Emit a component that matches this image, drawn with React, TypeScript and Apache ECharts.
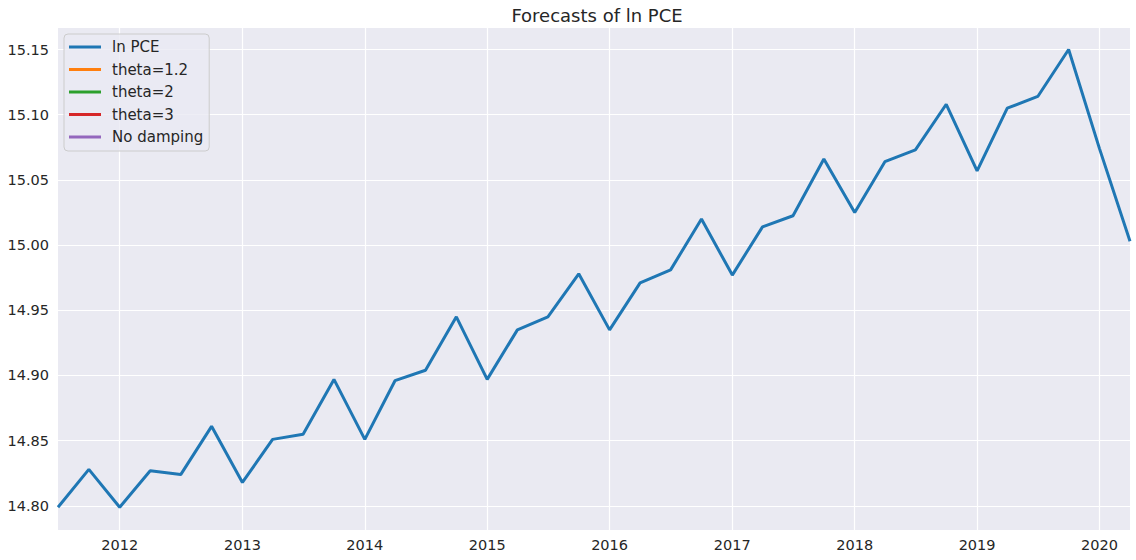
import React, { useEffect, useRef } from "react";
import * as echarts from "echarts";

const quarters: string[] = [
  "2011-07-01", "2011-10-01",
  "2012-01-01", "2012-04-01", "2012-07-01", "2012-10-01",
  "2013-01-01", "2013-04-01", "2013-07-01", "2013-10-01",
  "2014-01-01", "2014-04-01", "2014-07-01", "2014-10-01",
  "2015-01-01", "2015-04-01", "2015-07-01", "2015-10-01",
  "2016-01-01", "2016-04-01", "2016-07-01", "2016-10-01",
  "2017-01-01", "2017-04-01", "2017-07-01", "2017-10-01",
  "2018-01-01", "2018-04-01", "2018-07-01", "2018-10-01",
  "2019-01-01", "2019-04-01", "2019-07-01", "2019-10-01",
  "2020-01-01", "2020-04-01",
];

const lnPCE: number[] = [
  14.799, 14.828,
  14.799, 14.827, 14.824, 14.861,
  14.818, 14.851, 14.855, 14.897,
  14.851, 14.896, 14.904, 14.945,
  14.897, 14.935, 14.945, 14.978,
  14.935, 14.971, 14.981, 15.02,
  14.977, 15.014, 15.0225, 15.066,
  15.025, 15.064, 15.073, 15.108,
  15.057, 15.105, 15.114, 15.15,
  15.074, 15.003,
];

const theta12: number[] = [];
const theta2: number[] = [];
const theta3: number[] = [];
const noDamping: number[] = [];

const yearTicks: number[] = [2012, 2013, 2014, 2015, 2016, 2017, 2018, 2019, 2020];
const yTicks: number[] = [14.8, 14.85, 14.9, 14.95, 15.0, 15.05, 15.1, 15.15];

const xStart = "2011-07-01";
const xEnd = "2020-04-01";
const yMin = 14.7815;
const yMax = 15.1665;

function ts(d: string): number {
  const [y, m, dd] = d.split("-").map(Number);
  return Date.UTC(y, m - 1, dd);
}

const TEXT = "#262626";
const FONT = "DejaVu Sans";

export default function App() {
  const ref = useRef<HTMLDivElement>(null);
  useEffect(() => {
    if (!ref.current) return;
    const chart = echarts.init(ref.current, undefined, { renderer: "svg" });
    const pairs = (vals: number[]) => vals.map((v, i) => [ts(quarters[i]), v]);
    const yearTs = yearTicks.map((y) => Date.UTC(y, 0, 1));
    chart.setOption({
      animation: false,
      backgroundColor: "#ffffff",
      title: {
        text: "Forecasts of ln PCE",
        left: 592,
        textAlign: "center",
        top: 1,
        textStyle: { fontFamily: FONT, fontSize: 18, fontWeight: "normal", color: TEXT },
      },
      grid: { left: 58, right: 6, top: 28, bottom: 30, show: true, backgroundColor: "#EAEAF2", borderWidth: 0 },
      legend: {
        orient: "vertical",
        left: 64,
        top: 34,
        padding: [2, 6, 3, 5],
        backgroundColor: "rgba(234,234,242,0.8)",
        borderColor: "#cccccc",
        borderWidth: 1,
        borderRadius: 4,
        icon: "rect",
        itemWidth: 32,
        itemHeight: 3,
        itemGap: 0.5,
        textStyle: { fontFamily: FONT, fontSize: 15, color: TEXT, lineHeight: 22, padding: [0, 0, 0, 6] },
        data: ["ln PCE", "theta=1.2", "theta=2", "theta=3", "No damping"],
      },
      xAxis: {
        type: "value",
        min: ts(xStart),
        max: ts(xEnd),
        axisLine: { show: false },
        axisTick: { show: false, customValues: yearTs },
        axisLabel: {
          customValues: yearTs,
          formatter: (v: number) => String(new Date(v).getUTCFullYear()),
          fontFamily: FONT,
          fontSize: 14.5,
          color: TEXT,
          margin: 7,
        },
        splitLine: { show: true, lineStyle: { color: "#ffffff", width: 1.2 } },
      },
      yAxis: {
        type: "value",
        min: yMin,
        max: yMax,
        axisLine: { show: false },
        axisTick: { show: false, customValues: yTicks },
        axisLabel: {
          customValues: yTicks,
          formatter: (v: number) => v.toFixed(2),
          fontFamily: FONT,
          fontSize: 14.5,
          color: TEXT,
          margin: 9,
        },
        splitLine: { show: true, lineStyle: { color: "#ffffff", width: 1.2 } },
      },
      series: [
        { name: "ln PCE", type: "line", data: pairs(lnPCE), showSymbol: false, symbol: "none", lineStyle: { color: "#1f77b4", width: 3 }, itemStyle: { color: "#1f77b4" } },
        { name: "theta=1.2", type: "line", data: pairs(theta12), showSymbol: false, symbol: "none", lineStyle: { color: "#ff7f0e", width: 3 }, itemStyle: { color: "#ff7f0e" } },
        { name: "theta=2", type: "line", data: pairs(theta2), showSymbol: false, symbol: "none", lineStyle: { color: "#2ca02c", width: 3 }, itemStyle: { color: "#2ca02c" } },
        { name: "theta=3", type: "line", data: pairs(theta3), showSymbol: false, symbol: "none", lineStyle: { color: "#d62728", width: 3 }, itemStyle: { color: "#d62728" } },
        { name: "No damping", type: "line", data: pairs(noDamping), showSymbol: false, symbol: "none", lineStyle: { color: "#9467bd", width: 3 }, itemStyle: { color: "#9467bd" } },
      ],
    });
    return () => chart.dispose();
  }, []);
  return (
    <div
      ref={ref}
      style={{ position: "fixed", left: 0, top: 0, width: 1136, height: 560 }}
    />
  );
}
